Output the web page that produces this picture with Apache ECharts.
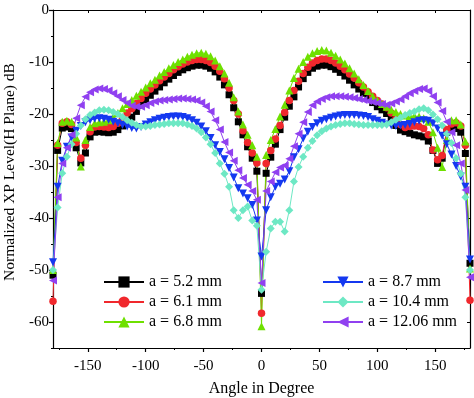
<!DOCTYPE html>
<html><head><meta charset="utf-8">
<script src="https://cdn.jsdelivr.net/npm/echarts@6/dist/echarts.min.js"></script>
<style>html,body{margin:0;padding:0;background:#fff}#c{width:474px;height:398px}</style>
</head><body><div id="c"></div>
<script>
const angles = [-180,-176,-172,-168,-164,-160,-156,-152,-148,-144,-140,-136,-132,-128,-124,-120,-116,-112,-108,-104,-100,-96,-92,-88,-84,-80,-76,-72,-68,-64,-60,-56,-52,-48,-44,-40,-36,-32,-28,-24,-20,-16,-12,-8,-4,0,4,8,12,16,20,24,28,32,36,40,44,48,52,56,60,64,68,72,76,80,84,88,92,96,100,104,108,112,116,120,124,128,132,136,140,144,148,152,156,160,164,168,172,176,180];

const a52 = [-51,-27,-22.7,-22.5,-22.8,-26.5,-29.4,-27.5,-24.4,-23.5,-23.4,-23.5,-23.6,-23.5,-23,-22.3,-21.3,-20.6,-19.5,-18.3,-17.3,-16.4,-15.6,-14.8,-14,-13.3,-12.6,-12,-11.5,-11.1,-10.8,-10.6,-10.6,-10.8,-11.2,-11.9,-12.9,-14.4,-16.3,-18.8,-21.5,-24,-26.3,-28.5,-31,
-54.5,
-31.4,-28.3,-25.8,-23,-20.6,-18.5,-16.7,-14.8,-13.2,-12,-11.2,-10.8,-10.6,-10.6,-10.9,-11.4,-12,-12.7,-13.5,-14.4,-15.2,-16,-16.9,-17.8,-18.6,-19.2,-19.9,-21,-22.2,-23.1,-23.4,-23.7,-24,-24.2,-24.4,-25.2,-27,-29.5,-28.5,-23.5,-22.8,-22.8,-23.5,-27.6,-48.7];

const a61 = [-56,-26,-21.8,-21.5,-22,-25.5,-28.5,-26,-23.4,-22.5,-22.4,-22.5,-22.6,-22.4,-21.8,-20.8,-19.8,-19,-18,-17,-16,-15.2,-14.4,-13.6,-12.9,-12.2,-11.5,-10.9,-10.4,-10,-9.7,-9.5,-9.5,-9.7,-10.1,-10.8,-11.8,-13.2,-15,-17.4,-20,-23.2,-25.5,-27.5,-29.4,
-58.3,
-29.5,-27,-24.8,-22.2,-19.7,-17.4,-15.5,-13.7,-12.2,-11,-10.2,-9.7,-9.4,-9.4,-9.7,-10.2,-10.8,-11.5,-12.3,-13.1,-14,-14.8,-15.7,-16.6,-17.4,-18.1,-18.8,-19.8,-21,-22,-22.6,-22.4,-22.3,-22.4,-22.8,-24,-26.9,-28.8,-28,-23,-21.9,-21.7,-22.3,-26,-55.8];

const a68 = [-50,-25.6,-21.5,-21.3,-21.5,-24.5,-30.1,-25,-22.5,-21.8,-21.6,-21.5,-21.2,-20.6,-19.8,-18.9,-18.1,-17.3,-16.5,-15.7,-14.9,-14.1,-13.4,-12.6,-11.9,-11.2,-10.6,-10,-9.5,-9,-8.6,-8.3,-8.2,-8.4,-8.9,-9.7,-10.8,-12.2,-14,-16.8,-19.5,-22,-24,-26,-28.2,
-60.8,
-27.9,-25,-22.9,-20.5,-18.2,-15.5,-13.1,-11.3,-10,-9,-8.3,-7.9,-7.7,-7.8,-8.2,-8.8,-9.5,-10.3,-11.2,-12.2,-13.3,-14.4,-15.6,-16.6,-17.4,-18.1,-18.6,-19.2,-19.6,-20,-20.3,-20.4,-20.4,-20.5,-20.8,-21.5,-23.5,-26.5,-30.2,-25,-21.2,-21.2,-22,-25.3,-49.7];

const a87 = [-48.5,-34,-29,-26.3,-24.5,-23.2,-22.3,-21.6,-21.2,-20.9,-20.8,-20.9,-21.1,-21.5,-21.8,-22.1,-22.4,-22.7,-22.8,-22.5,-22,-21.6,-21.2,-20.9,-20.7,-20.6,-20.5,-20.5,-20.6,-20.8,-21.2,-21.7,-22.4,-23.3,-24.6,-26,-27.3,-28.7,-30.4,-32.2,-34.3,-35.3,-36.2,-37.5,-40.5,
-47.4,
-38.5,-36,-34,-33.4,-32.6,-31,-28.3,-26.8,-24.7,-23.4,-22.5,-21.8,-21.3,-21,-20.7,-20.5,-20.3,-20.2,-20.2,-20.2,-20.3,-20.4,-20.6,-21,-21.3,-21.7,-22,-22.2,-22.3,-22.2,-22.1,-21.9,-21.6,-21.3,-21.2,-21.3,-21.8,-22.8,-24.2,-25.8,-27.8,-30,-32,-34,-48];

const a104 = [-50,-38,-31.4,-28.2,-25.8,-23.8,-22.2,-21,-20.2,-19.7,-19.3,-19.2,-19.3,-19.6,-20,-20.6,-21.2,-21.7,-22.1,-22.4,-22.4,-22.3,-22.1,-22,-21.9,-21.8,-21.8,-21.8,-21.8,-22,-22.3,-22.8,-23.5,-24.5,-25.8,-27.5,-29.5,-31.5,-34,-38.5,-40,-38.5,-37.8,-40.5,-41.5,
-53.8,
-46.5,-42,-40.7,-40.7,-42.6,-38.5,-33,-30.2,-28.2,-26.5,-25.2,-24.1,-23.3,-22.8,-22.4,-22.1,-21.9,-21.8,-21.8,-21.9,-22,-22.1,-22.1,-22.1,-22.1,-22.1,-22,-21.6,-21.1,-20.7,-20.2,-19.8,-19.5,-19.1,-18.9,-19.3,-20.1,-21,-22.2,-23.8,-25.6,-28.5,-31.5,-36,-50];

const a1206 = [-52,-36,-29.5,-26.5,-24,-20.8,-18.3,-16.7,-15.8,-15.3,-15.1,-15.2,-15.5,-16,-16.6,-17.3,-17.9,-18.4,-18.6,-18.6,-18.3,-17.9,-17.6,-17.4,-17.3,-17.2,-17.1,-17,-17,-17.1,-17.2,-17.4,-17.8,-18.5,-19.5,-21.2,-23,-25.4,-27.4,-29,-30.8,-32.3,-33.6,-34.8,-36.5,
-52.5,
-34.8,-33,-31.2,-30.3,-29.9,-28.6,-26.2,-23.8,-21.6,-19.6,-18.3,-17.6,-17.1,-16.8,-16.6,-16.6,-16.6,-16.7,-16.8,-16.9,-17.1,-17.3,-17.5,-17.7,-17.9,-18.1,-18.2,-18,-17.6,-17.2,-16.6,-16,-15.6,-15.2,-15.1,-15.6,-16.6,-17.8,-19.4,-21.5,-23.5,-26,-29.5,-34.6,-51.4];

const names = ['a = 5.2 mm','a = 6.1 mm','a = 6.8 mm','a = 8.7 mm','a = 10.4 mm','a = 12.06 mm'];
const xMajor = [-150,-100,-50,0,50,100,150];
const xMinor = [-175,-125,-75,-25,25,75,125,175];
const yMajor = [-60,-50,-40,-30,-20,-10,0];
const yMinor = [-65,-55,-45,-35,-25,-15,-5];

const FONT = 'Liberation Serif';
const seriesVals = [a52,a61,a68,a87,a104,a1206];
const colors = ['#000000','#f0282d','#6ee000','#1438f0','#6de8c4','#9040f0'];
const symbols = ['rect','circle','triangle','triangle','diamond','triangle'];
const rot = [0,0,0,180,0,90];
const sizes = [7,7.5,8,8,8,8];

const series = seriesVals.map((vals,k)=>({
  name: names[k], type:'line', xAxisIndex:0, yAxisIndex:0,
  data: angles.map((a,i)=>[a, vals[i]]),
  symbol: symbols[k], symbolRotate: rot[k], symbolSize: sizes[k],
  showSymbol:true, showAllSymbol:true, clip:false,
  itemStyle:{color:colors[k]}, lineStyle:{color:colors[k], width:1},
  emphasis:{disabled:true}, animation:false
}));

const chart = echarts.init(document.getElementById('c'), null, {renderer:'canvas'});
const legendText = {fontFamily:FONT, fontSize:16, color:'#000', lineHeight:15};
chart.setOption({
  animation:false,
  backgroundColor:'#fff',
  grid:{left:53, right:4, top:10, bottom:50, containLabel:false, outerBoundsMode:'none'},
  legend:[
    {data:names.slice(0,3), orient:'vertical', left:103, top:274, padding:0, itemWidth:40, itemHeight:14, itemGap:4,
     textStyle:legendText, selectedMode:false},
    {data:names.slice(3), orient:'vertical', left:322, top:274, padding:0, itemWidth:40, itemHeight:14, itemGap:4,
     textStyle:legendText, selectedMode:false}
  ],
  xAxis:[
    {type:'value', min:-180, max:180, position:'bottom', gridIndex:0,
     axisLine:{show:true, onZero:false, lineStyle:{color:'#000', width:1.2}},
     axisTick:{show:true, inside:false, length:4, customValues:xMajor, lineStyle:{color:'#000', width:1.2}},
     axisLabel:{customValues:xMajor, fontFamily:FONT, fontSize:15, color:'#000', margin:11},
     splitLine:{show:false},
     name:'Angle in Degree', nameLocation:'middle', nameGap:33,
     nameTextStyle:{fontFamily:FONT, fontSize:16, color:'#000'}},
    {type:'value', min:-180, max:180, position:'bottom', gridIndex:0,
     axisLine:{show:false, onZero:false},
     axisTick:{show:true, inside:false, length:2, customValues:xMinor, lineStyle:{color:'#000', width:1}},
     axisLabel:{show:false}, splitLine:{show:false}},
    {type:'value', min:-180, max:180, position:'top', gridIndex:0,
     axisLine:{show:true, onZero:false, lineStyle:{color:'#000', width:1.2}},
     axisTick:{show:true, inside:true, length:3, customValues:xMajor, lineStyle:{color:'#000', width:1}},
     axisLabel:{show:false}, splitLine:{show:false}}
  ],
  yAxis:[
    {type:'value', min:-65, max:0, position:'left', gridIndex:0,
     axisLine:{show:true, onZero:false, lineStyle:{color:'#000', width:1.2}},
     axisTick:{show:true, inside:false, length:4, customValues:yMajor, lineStyle:{color:'#000', width:1.2}},
     axisLabel:{customValues:yMajor, fontFamily:FONT, fontSize:15, color:'#000', margin:4},
     splitLine:{show:false},
     name:'Normalized XP Level(H Plane) dB', nameLocation:'middle', nameGap:33,
     nameTextStyle:{fontFamily:FONT, fontSize:15.5, color:'#000', padding:[0,0,0,14]}},
    {type:'value', min:-65, max:0, position:'left', gridIndex:0,
     axisLine:{show:false, onZero:false},
     axisTick:{show:true, inside:false, length:2, customValues:yMinor, lineStyle:{color:'#000', width:1}},
     axisLabel:{show:false}, splitLine:{show:false}},
    {type:'value', min:-65, max:0, position:'right', gridIndex:0,
     axisLine:{show:true, onZero:false, lineStyle:{color:'#000', width:1.2}},
     axisTick:{show:true, inside:true, length:3, customValues:yMajor, lineStyle:{color:'#000', width:1}},
     axisLabel:{show:false}, splitLine:{show:false}}
  ],
  series: series
});
</script>
</body></html>
